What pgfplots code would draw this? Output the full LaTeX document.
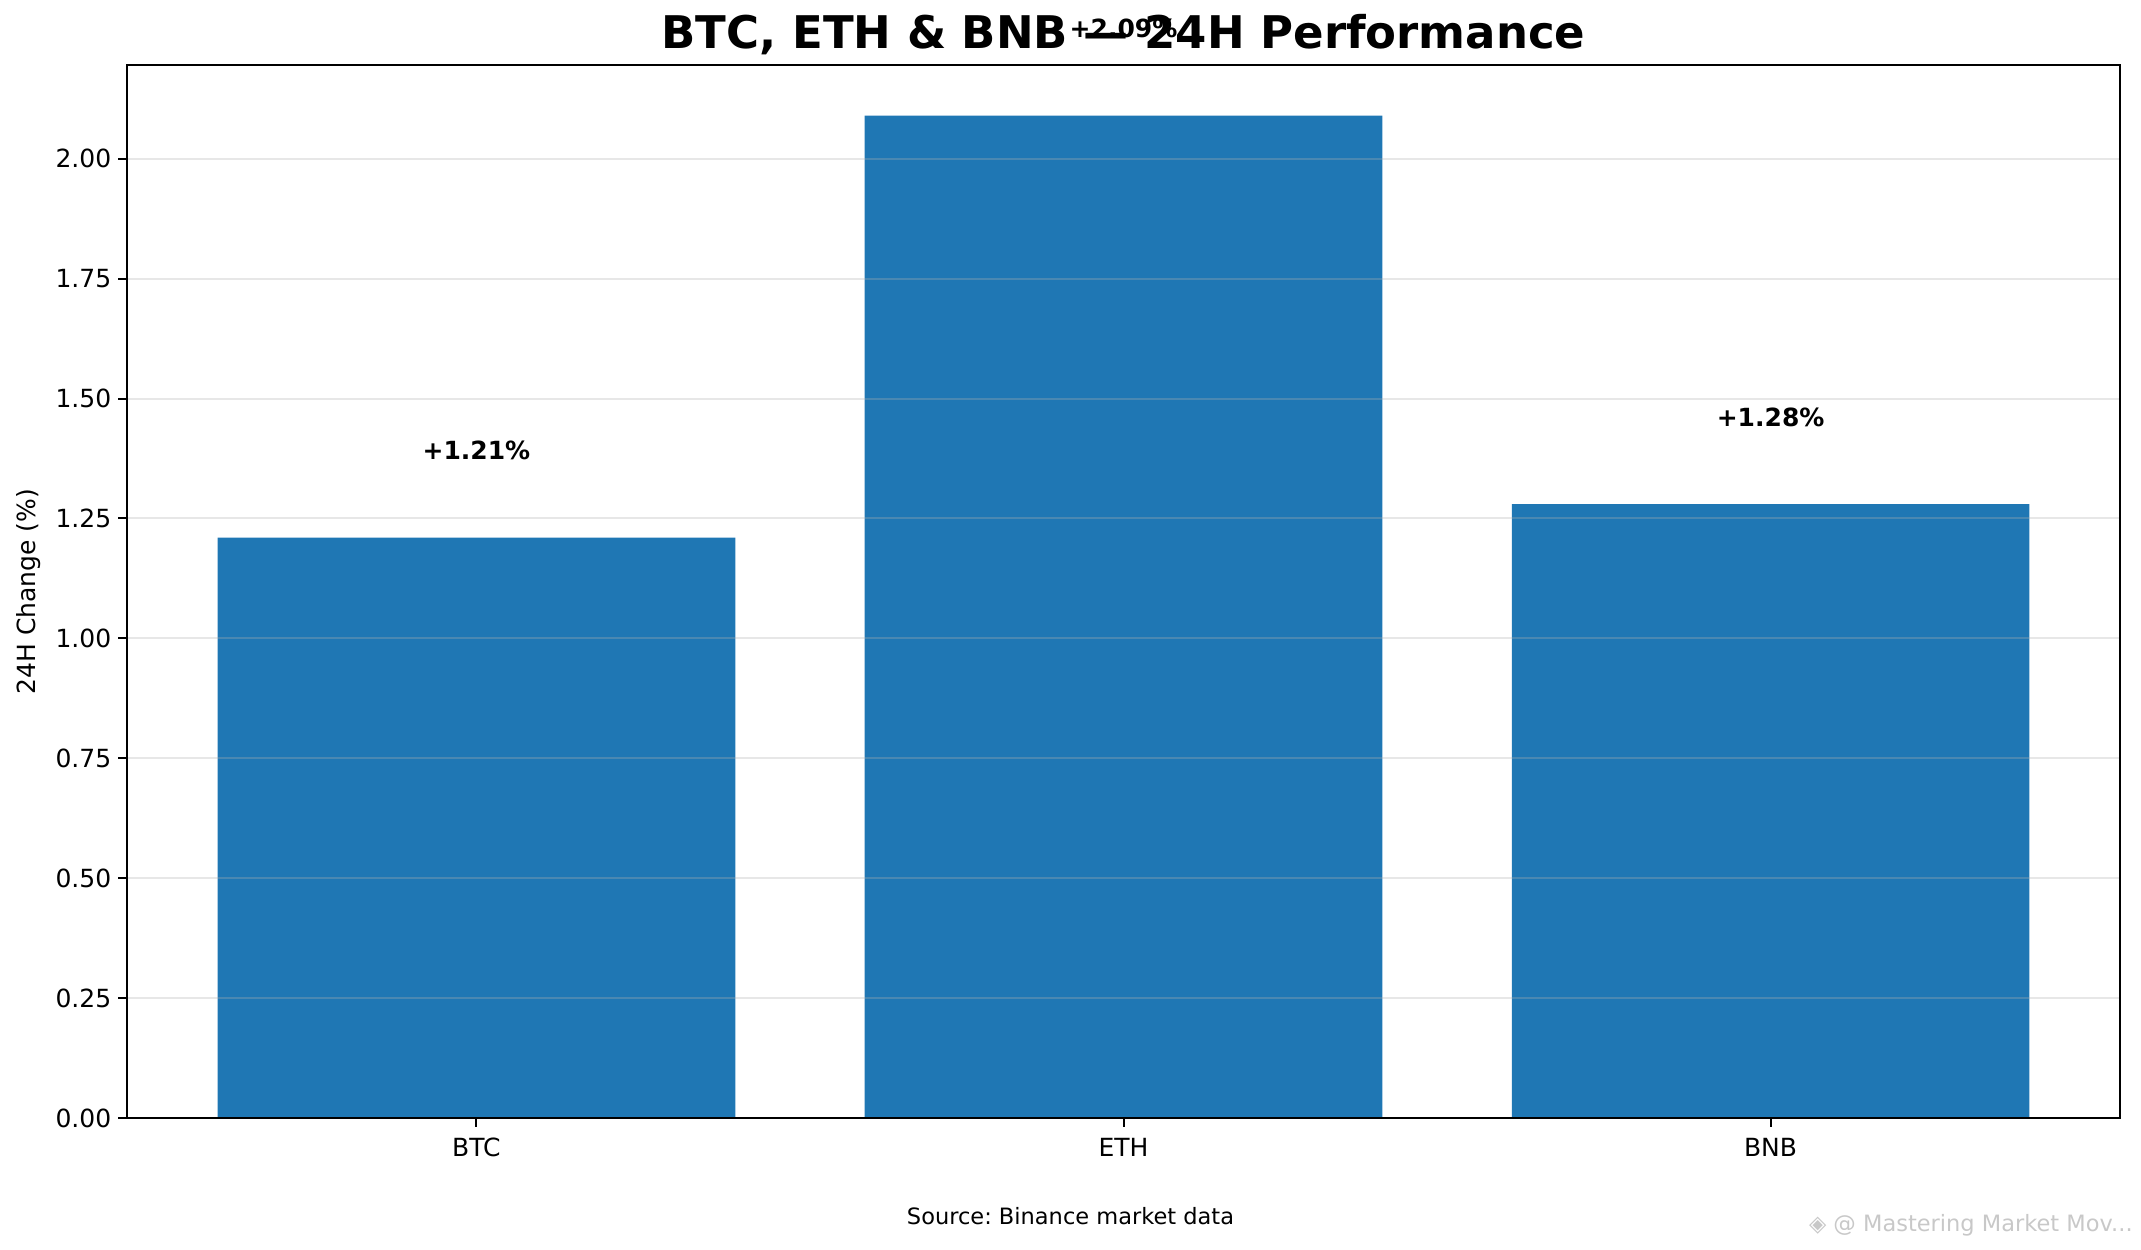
\documentclass[border=0pt]{standalone}
\usepackage{pgfplots}
\pgfplotsset{compat=1.18}
\usepackage{fontspec}
\setmainfont{DejaVu Sans}
\definecolor{barblue}{HTML}{1F77B4}
\definecolor{gridgray}{HTML}{B0B0B0}
\definecolor{wmgray}{HTML}{C8C8C8}
\begin{document}
\frenchspacing
\begin{tikzpicture}
\useasboundingbox (-63.5pt,-65.5pt) rectangle (1007pt,559pt);
\begin{axis}[
  at={(0,0)}, anchor=south west, scale only axis,
  width=996.5pt, height=526.25pt,
  xmin=-0.54, xmax=2.54, ymin=0, ymax=2.1945,
  xtick={0,1,2}, xticklabels={BTC,ETH,BNB},
  ytick={0,0.25,0.5,0.75,1,1.25,1.5,1.75,2},
  /pgf/number format/assume math mode=true,
  yticklabel style={/pgf/number format/fixed, /pgf/number format/fixed zerofill, /pgf/number format/precision=2},
  xticklabel style={yshift=-2pt},
  tick pos=left, tick align=outside, major tick length=4.375pt,
  tick style={line width=1pt, black},
  axis line style={line width=1pt},
  ymajorgrids, grid style={line width=1pt, color=gridgray, opacity=0.3},
  axis on top, clip=false,
  every tick label/.append style={font=\fontsize{12.5}{15}\selectfont},
  ylabel={24H Change (\%)},
  ylabel style={font=\fontsize{12.5}{15}\selectfont, at={(axis description cs:-0.04937,0.5)}, anchor=center},
  title={BTC, ETH \& BNB — 24H Performance},
  title style={font=\bfseries\fontsize{22.5}{27}\selectfont, at={(axis description cs:0.5,1)}, anchor=base, yshift=2.3pt},
  point meta=explicit symbolic,
  nodes near coords,
  nodes near coords style={font=\bfseries\fontsize{12.5}{15}\selectfont, anchor=base, yshift=38.9pt},
]
\addplot[ybar, bar width=0.8, fill=barblue, draw=none] coordinates {(0,1.21) [+1.21\%] (1,2.09) [+2.09\%] (2,1.28) [+1.28\%]};
\end{axis}
\node[font=\fontsize{11.25}{13.5}\selectfont, anchor=center] at (471.75pt,-49.3pt) {Source: Binance market data};
\node[font=\fontsize{11.25}{13.5}\selectfont, anchor=east, text=wmgray, inner sep=0pt] at (1003pt,-53.5pt) {◈ @ Mastering Market Mov...};
\end{tikzpicture}
\end{document}
